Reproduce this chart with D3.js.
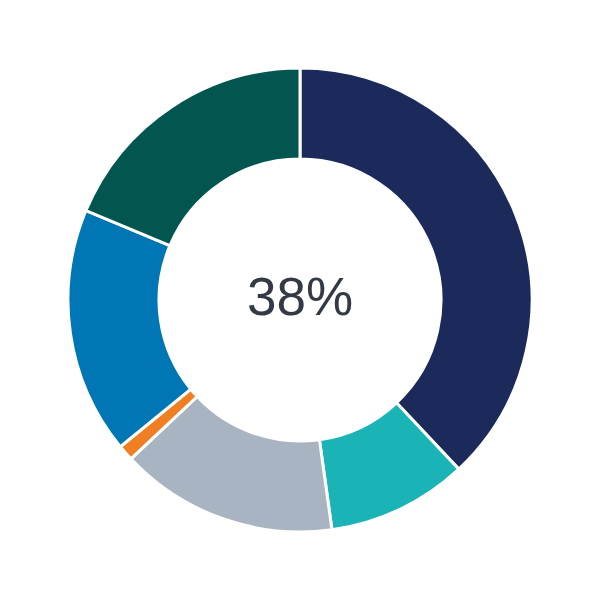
<!DOCTYPE html>
<html>
<head>
<meta charset="utf-8">
<script src="https://cdn.jsdelivr.net/npm/d3@7"></script>
<style>
  body { margin: 0; background: #fff; }
  svg { display: block; }
</style>
</head>
<body>
<svg class="donut" width="600" height="600"></svg>
<script>
// slice data, clockwise from 12 o'clock
let categories = ['A', 'B', 'C', 'D', 'E', 'F'];
let values = [38, 9.8, 15.2, 1.1, 17.2, 18.7];
let colors = ['#1c2a5b', '#1ab3b6', '#a9b4c2', '#f07f23', '#0076b5', '#02564f'];
let centerLabel = '38%';

let drawDonut = function(){
  let svg = d3.select("body").select(".donut");
  let width = +svg.attr("width");
  let height = +svg.attr("height");

  let outerRadius = 232;
  let innerRadius = 141;

  let data = categories.map((c, i) => ({cat: c, value: values[i]}));

  let colorScale = d3.scaleOrdinal()
    .domain(categories)
    .range(colors);

  let pie = d3.pie()
    .sort(null)
    .value(d => d.value);

  let arc = d3.arc()
    .innerRadius(innerRadius)
    .outerRadius(outerRadius);

  let plot = svg.append("g")
    .attr("transform", translate(width / 2, height / 2));

  plot.selectAll(".slice")
    .data(pie(data))
    .enter().append("path")
    .attr("class", "slice")
    .attr("d", arc)
    .attr("fill", d => colorScale(d.data.cat))
    .attr("stroke", "#fff")
    .attr("stroke-width", 3)
    .attr("stroke-linejoin", "miter");

  // big number in the hole
  plot.append("text")
    .attr("x", 0)
    .attr("y", 15)
    .attr("text-anchor", "middle")
    .style("font-family", "'Liberation Sans', Arial, sans-serif")
    .style("font-size", "53px")
    .style("fill", "#343a45")
    .text(centerLabel);
};

function translate(x, y) {
  return 'translate(' + x + ',' + y + ')';
}

drawDonut();
</script>
</body>
</html>
